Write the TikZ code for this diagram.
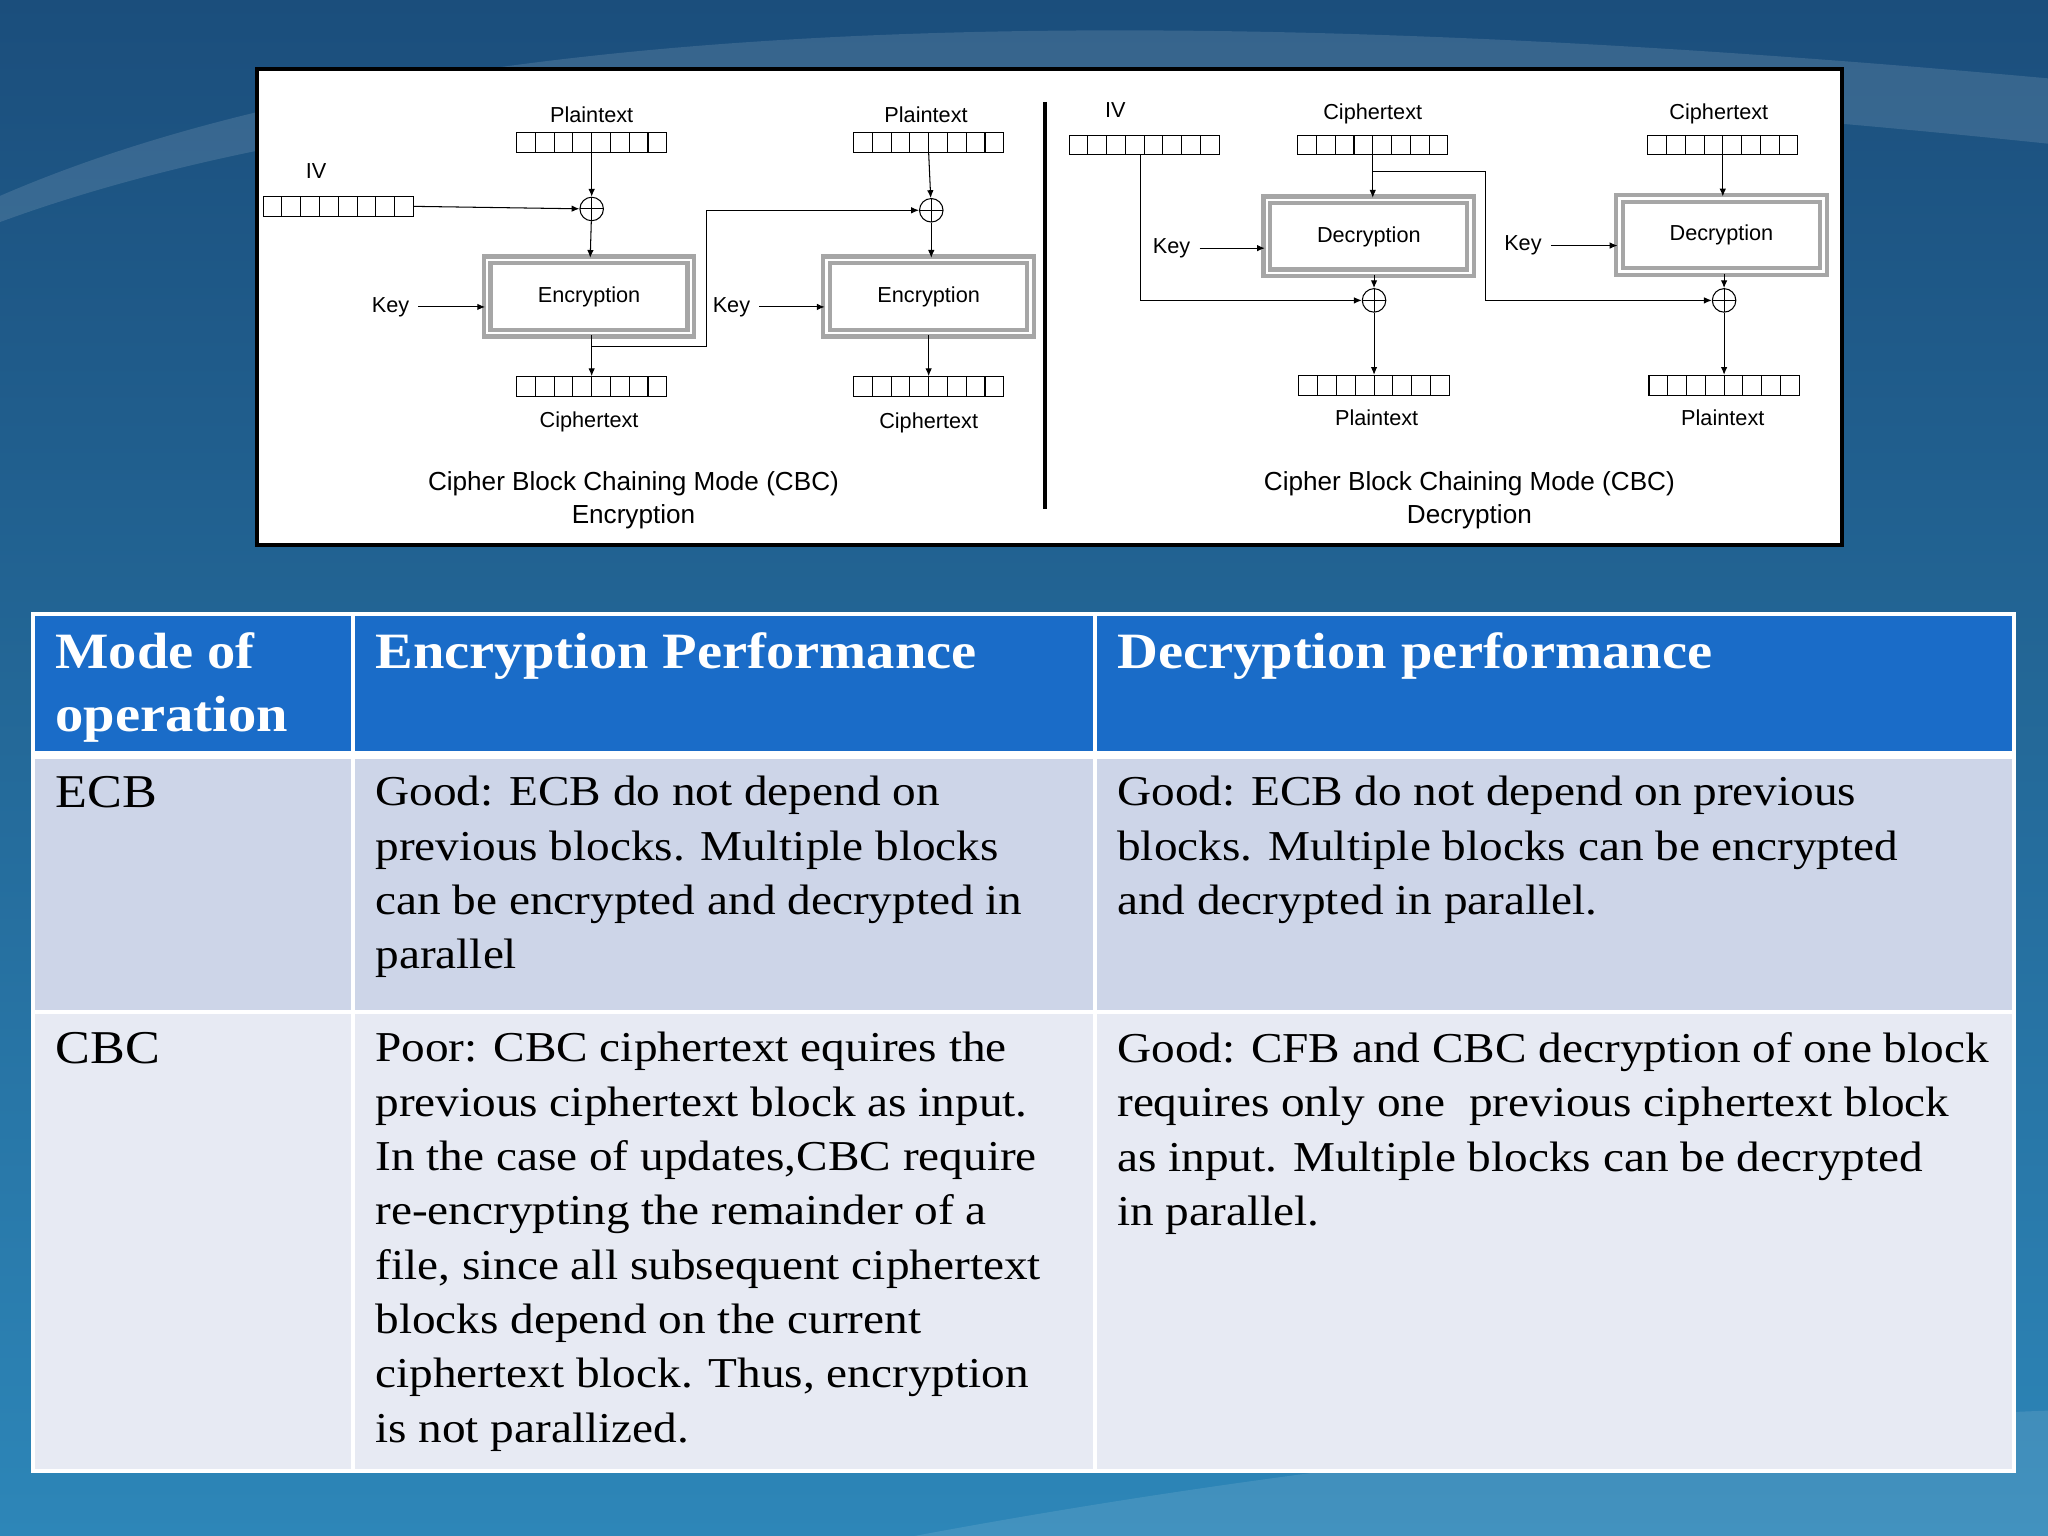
\documentclass[tikz,border=0pt]{standalone}
\usepackage{fontspec}
\setmainfont{Liberation Serif}[FakeStretch=1.11]
\newfontfamily\diag{Liberation Sans}
\usetikzlibrary{arrows.meta}
\definecolor{bgtop}{HTML}{1B4E7C}
\definecolor{bgbot}{HTML}{2D86B8}
\definecolor{hdr}{HTML}{1A6CC8}
\definecolor{rowa}{HTML}{CDD5E8}
\definecolor{rowb}{HTML}{E7EAF3}
\tikzset{
 lbl/.style={font=\diag\fontsize{8.3}{9}\selectfont},
 capt/.style={font=\diag\fontsize{10}{13}\selectfont,align=center},
 blk/.style={draw=gray!70,line width=1.6pt,double=white,double distance=1pt,fill=white,minimum width=78pt,minimum height=28pt,font=\diag\fontsize{8.3}{9}\selectfont},
 xo/.style={circle,draw,inner sep=0pt,minimum size=9pt,path picture={\draw (path picture bounding box.north)--(path picture bounding box.south) (path picture bounding box.west)--(path picture bounding box.east);}},
 ar/.style={-{Latex[length=3pt,width=2.5pt]},line width=0.4pt},
 ln/.style={line width=0.4pt},
 th/.style={font=\bfseries\fontsize{19.5}{24}\selectfont,text=white,anchor=north west,align=left,inner sep=0pt},
 td/.style={font=\fontsize{16.3}{20.8}\selectfont,anchor=north west,align=left,inner sep=0pt},
}
\newcommand{\regbar}[2]{% center x,y
 \draw[ln,fill=white] (#1-57.5,#2-7.5) rectangle (#1+57.5,#2+7.5);
 \foreach \i in {1,...,7} \draw[ln] (#1-57.5+\i*14.375,#2-7.5)--(#1-57.5+\i*14.375,#2+7.5);}
\begin{document}
\begin{tikzpicture}[x=0.5pt,y=-0.5pt]
\useasboundingbox (0,0) rectangle (1568,1176);
\shade[top color=bgtop,bottom color=bgbot] (0,0) rectangle (1568,1176);
\fill[white,opacity=0.12] (0,170) .. controls (300,60) and (800,30) .. (1568,110) -- (1568,60) .. controls (800,-10) and (300,20) .. (0,150) -- cycle;
\fill[white,opacity=0.10] (700,1176) .. controls (1000,1120) and (1300,1090) .. (1568,1080) -- (1568,1176) -- cycle;
% diagram panel
\draw[line width=1.5pt,fill=white] (197,53) rectangle (1410,417);
\draw[line width=1.5pt] (800,78)--(800,390);
% encryption side
\node[lbl] (pt1) at (453,88) {Plaintext};
\regbar{453}{109}
\coordinate (r1b) at (453,117);
\node[xo] (x1) at (453,160) {};
\node[lbl] (iv1) at (242,131) {IV};
\regbar{259}{158}
\coordinate (iv1r) at (317,158);
\draw[ar] (iv1r)--(x1);
\draw[ar] (r1b)--(x1);
\node[blk] (e1) at (451,227) {Encryption};
\draw[ar] (x1)--(e1);
\node[lbl] (k1) at (299,235) {Key};
\draw[ar] (k1)--(e1.west|-k1);
\regbar{453}{296}
\coordinate (c1t) at (453,288);
\draw[ar] (e1.south-|c1t)--(c1t);
\node[lbl] (ct1) at (451,323) {Ciphertext};
\node[lbl] (pt2) at (709,88) {Plaintext};
\regbar{711}{109}
\coordinate (r2b) at (711,117);
\node[xo] (x2) at (713,161) {};
\coordinate (fb1) at (453,265);
\coordinate (fb2) at (541,265);
\draw[ar] (fb1)--(fb2)--(541,161)--(x2);
\draw[ar] (r2b)--(x2);
\node[blk] (e2) at (711,227) {Encryption};
\draw[ar] (x2)--(e2.north-|x2);
\node[lbl] (k2) at (560,235) {Key};
\draw[ar] (k2)--(e2.west|-k2);
\regbar{711}{296}
\coordinate (c2t) at (711,288);
\draw[ar] (e2.south-|c2t)--(c2t);
\node[lbl] (ct2) at (711,324) {Ciphertext};
\node[capt] (capE) at (485,383) {Cipher Block Chaining Mode (CBC)\\Encryption};
% decryption side
\node[lbl] (iv2) at (854,84) {IV};
\regbar{876}{111}
\node[lbl] (cx1) at (1051,87) {Ciphertext};
\regbar{1051}{111}
\node[blk] (d1) at (1048,181) {Decryption};
\draw[ar] (1051,119)--(d1.north-|1051,0);
\node[lbl] (k3) at (897,190) {Key};
\draw[ar] (k3)--(d1.west|-k3);
\node[xo] (x3) at (1052,230) {};
\draw[ar] (873,119)--(873,230)--(x3);
\draw[ar] (d1.south-|x3)--(x3);
\regbar{1052}{295}
\draw[ar] (x3)--(1052,287);
\node[lbl] (p1) at (1054,320) {Plaintext};
\node[lbl] (cx2) at (1316,87) {Ciphertext};
\regbar{1319}{111}
\node[blk] (d2) at (1318,180) {Decryption};
\draw[ar] (1319,119)--(d2.north-|1319,0);
\node[lbl] (k4) at (1166,188) {Key};
\draw[ar] (k4)--(d2.west|-k4);
\node[xo] (x4) at (1320,230) {};
\draw[ar] (1051,131)--(1137,131)--(1137,230)--(x4);
\draw[ar] (d2.south-|x4)--(x4);
\regbar{1320}{295}
\draw[ar] (x4)--(1320,287);
\node[lbl] (p2) at (1319,320) {Plaintext};
\node[capt] (capD) at (1125,383) {Cipher Block Chaining Mode (CBC)\\Decryption};
% table
\fill[hdr] (25,470) rectangle (1542,578);
\fill[rowa] (25,578) rectangle (1542,775);
\fill[rowb] (25,775) rectangle (1542,1126);
\draw[white,line width=1.5pt] (25,470) rectangle (1542,1126);
\draw[white,line width=3pt] (25,578)--(1542,578);
\draw[white,line width=1.5pt] (25,775)--(1542,775) (270,470)--(270,1126) (838,470)--(838,1126);
\node[th] (h1) at (42,484) {Mode of\\operation};
\node[th] (h2) at (287,484) {Encryption Performance};
\node[th] (h3) at (855,484) {Decryption performance};
\node[td,font=\fontsize{18}{20.8}\selectfont] (a1) at (42,594) {ECB};
\node[td] (a2) at (287,594) {Good: ECB do not depend on\\previous blocks. Multiple blocks\\can be encrypted and decrypted in\\parallel};
\node[td] (a3) at (855,594) {Good: ECB do not depend on previous\\blocks. Multiple blocks can be encrypted\\and decrypted in parallel.};
\node[td,font=\fontsize{18}{20.8}\selectfont] (b1) at (42,790) {CBC};
\node[td] (b2) at (287,790) {Poor: CBC ciphertext equires the\\previous ciphertext block as input.\\In the case of updates,CBC require\\re-encrypting the remainder of a\\file, since all subsequent ciphertext\\blocks depend on the current\\ciphertext block. Thus, encryption\\is not parallized.};
\node[td] (b3) at (855,790) {Good: CFB and CBC decryption of one block\\requires only one\ \ previous ciphertext block\\as input. Multiple blocks can be decrypted\\in parallel.};
\end{tikzpicture}
\end{document}
